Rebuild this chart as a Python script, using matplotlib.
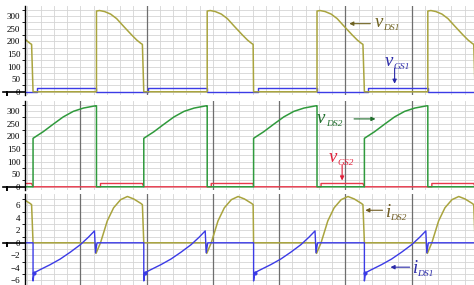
import numpy as np
import matplotlib.pyplot as plt
from matplotlib.ticker import MultipleLocator

# switching cycle start times (falling edge of v_DS1)
cycle_starts = [-1.386, 0.286, 1.957, 3.614, 5.286, 6.957]

# one switching cycle, time measured from the cycle start
t_vds1 = [0, 0.957, 0.957, 1.003, 1.079, 1.170, 1.261, 1.368, 1.489, 1.565, 1.626, 1.650]
vds1 = [0, 0, 320, 322, 318, 308, 290, 259, 225, 205, 192, 188]

t_vgs1 = [0, 0.06, 0.06, 0.957, 0.957, 1.650]
vgs1 = [0, 0, 13, 13, 0, 0]

t_vds2 = [0, 0, 0.046, 0.152, 0.304, 0.456, 0.608, 0.760, 0.942, 0.957, 0.957, 1.650]
vds2 = [0, 192, 200, 218, 248, 277, 299, 312, 321, 321, 0, 0]

t_vgs2 = [0, 1.018, 1.018, 1.650]
vgs2 = [0, 0, 13, 13]

t_ids1 = [0, 0, 0.015, 0.106, 0.258, 0.410, 0.562, 0.714, 0.836, 0.927, 0.942, 0.965, 1.650]
ids1 = [0, -6.1, -4.8, -4.3, -3.5, -2.6, -1.5, -0.3, 0.9, 1.9, -1.6, 0, 0]

t_ids2 = [0, 0.935, 0.950, 1.018, 1.120, 1.216, 1.322, 1.424, 1.520, 1.626, 1.650]
ids2 = [0, 0, -1.7, 0, 3.5, 5.6, 6.9, 7.4, 7.0, 6.3, 6.1]


def tile(tc, vc):
    t, v = [], []
    for s in cycle_starts:
        t += [s + x for x in tc]
        v += vc
    return np.array(t), np.array(v)


OLIVE = '#a9a43e'
BLUE = '#3b3be6'
GREEN = '#2f9a3c'
RED = '#e8384a'

plt.rcParams['font.family'] = 'Liberation Serif'

fig = plt.figure(figsize=(4.74, 2.85), dpi=100)
W, H = 474.0, 285.0
x0 = 24.5 / W
w = 1 - x0
ax1 = fig.add_axes([x0, 1 - 94.8 / H, w, (94.8 - 6.0) / H])
ax2 = fig.add_axes([x0, 1 - 189.8 / H, w, (189.8 - 101.0) / H])
ax3 = fig.add_axes([x0, 0, w, (285 - 194.0) / H])

dark_lines = {ax1: [2, 5, 6], ax2: [1, 3, 4, 5, 6], ax3: [1, 2, 3, 4, 5, 6]}

for ax in (ax1, ax2, ax3):
    ax.set_xlim(0.157, 6.94)
    for s in ('top', 'right', 'bottom'):
        ax.spines[s].set_visible(False)
    ax.spines['left'].set_linewidth(1.0)
    ax.xaxis.set_minor_locator(MultipleLocator(0.2))
    ax.set_xticks([])
    ax.grid(which='minor', axis='x', color='#d4d4d4', lw=0.6)
    ax.grid(which='major', axis='y', color='#d4d4d4', lw=0.6)
    for xl in dark_lines[ax]:
        ax.axvline(xl, color='#6e6e6e', lw=0.9, zorder=1)
    ax.tick_params(axis='y', length=0, labelsize=6.5, pad=3)
    ax.tick_params(axis='x', which='both', length=0)
    ax.set_axisbelow(True)
    # PSIM style ground marker at the zero level
    ax.plot([-0.17, 0.157], [0, 0], color='k', lw=1.2, clip_on=False)

for ax in (ax1, ax2):
    ax.set_ylim(-12, 340)
    ax.set_yticks(range(0, 301, 50))
    ax.yaxis.set_minor_locator(MultipleLocator(25))
    ax.grid(which='minor', axis='y', color='#d4d4d4', lw=0.6)
    ax.plot([-0.10, -0.10], [0, -14], color='k', lw=1.4, clip_on=False)

ax3.set_ylim(-6.75, 7.8)
ax3.set_yticks(range(-6, 7, 2))
ax3.yaxis.set_minor_locator(MultipleLocator(1))
ax3.grid(which='minor', axis='y', color='#d4d4d4', lw=0.6)
ax3.plot([-0.10, -0.10], [0, -0.55], color='k', lw=1.4, clip_on=False)

t, v = tile(t_vgs1, vgs1)
ax1.plot(t, v, color=BLUE, lw=1.0)
t, v = tile(t_vds1, vds1)
ax1.plot(t, v, color=OLIVE, lw=1.1)

t, v = tile(t_vgs2, vgs2)
ax2.plot(t, v, color=RED, lw=1.0)
t, v = tile(t_vds2, vds2)
ax2.plot(t, v, color=GREEN, lw=1.1)

t, v = tile(t_ids2, ids2)
ax3.plot(t, v, color=OLIVE, lw=1.1)
t, v = tile(t_ids1, ids1)
ax3.plot(t, v, color=BLUE, lw=1.0)
ax3.plot(np.array(cycle_starts) + 0.015, [-4.8] * len(cycle_starts), 'o',
         color=BLUE, ms=2)


def label(ax, x, y, main, sub, color, dx):
    ax.text(x, y, main, color=color, fontsize=13.5, style='italic',
            va='baseline', ha='left')
    ax.annotate(sub, xy=(x, y), xytext=(dx, -2.2), textcoords='offset points',
                color=color, fontsize=6.8, style='italic', va='baseline',
                ha='left')


def arrow(ax, tail, tip, color):
    ax.annotate('', xy=tip, xytext=tail,
                arrowprops=dict(arrowstyle='-|>', color=color, lw=0.8,
                                mutation_scale=6, shrinkA=0, shrinkB=0))


label(ax1, 5.437, 257, 'v', 'DS1', '#6e6220', 6.3)
arrow(ax1, (5.377, 270), (5.058, 270), '#6e6220')
label(ax1, 5.590, 104, 'v', 'GS1', '#2a2aa8', 6.3)
arrow(ax1, (5.742, 94), (5.742, 32), '#2a2aa8')

label(ax2, 4.571, 254, 'v', 'DS2', '#1f6e2c', 6.3)
arrow(ax2, (5.13, 269), (5.453, 269), '#1f6e2c')
label(ax2, 4.754, 98, 'v', 'GS2', '#e0203a', 6.3)
arrow(ax2, (4.95, 86), (4.95, 25), '#e0203a')

label(ax3, 5.605, 4.06, 'i', 'DS2', '#6e5a20', 3.2)
arrow(ax3, (5.56, 5.2), (5.30, 5.2), '#6e5a20')
label(ax3, 6.015, -4.84, 'i', 'DS1', '#2a2aa8', 3.2)
arrow(ax3, (5.97, -3.9), (5.68, -3.9), '#2a2aa8')

fig.savefig('out.png', dpi=100)
